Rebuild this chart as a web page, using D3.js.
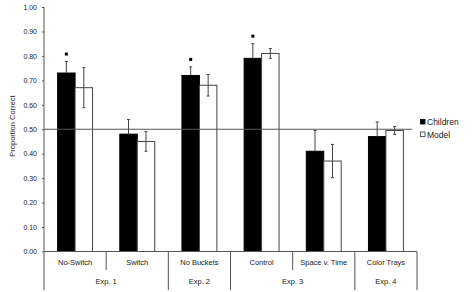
<!DOCTYPE html>
<html>
<head lang="en">
<meta charset="UTF-8">
<title>Proportion Correct</title>
<script src="https://cdn.jsdelivr.net/npm/d3@7"></script>
<style>
body { margin: 0; background: #fff; }
svg text { font-family: "Liberation Sans", Arial, sans-serif; fill: #222; }
.tick-label { font-size: 7px; }
.cat { font-size: 7.5px; }
</style>
</head>
<body>
<div id="vis"></div>
<script>
// values
var categories = ["No-Switch", "Switch", "No Buckets", "Control", "Space v. Time", "Color Trays"];
var children = [0.73, 0.48, 0.72, 0.79, 0.41, 0.47];
var childrenErr = [0.047, 0.06, 0.035, 0.06, 0.085, 0.06];
var model = [0.67, 0.45, 0.68, 0.81, 0.37, 0.495];
var modelErr = [0.082, 0.04, 0.044, 0.02, 0.068, 0.016];
var starred = [true, false, true, true, false, false];
var groups = [
  {name: "Exp. 1", first: 0, last: 1},
  {name: "Exp. 2", first: 2, last: 2},
  {name: "Exp. 3", first: 3, last: 4},
  {name: "Exp. 4", first: 5, last: 5}
];
var yTicks = [0, 0.1, 0.2, 0.3, 0.4, 0.5, 0.6, 0.7, 0.8, 0.9, 1.0];
var series = ["Children", "Model"];

var width = 474, height = 292;
var plotLeft = 44, plotRight = 417, plotTop = 7, plotBottom = 251.5;

var svg = d3.select("#vis").append("svg")
  .attr("width", width)
  .attr("height", height);

var x = d3.scaleBand().domain(categories).range([plotLeft, plotRight]).padding(0);
var x1 = d3.scaleBand().domain(series).range([0, x.bandwidth()]).paddingInner(0).paddingOuter(0.78);
var y = d3.scaleLinear().domain([0, 1]).range([plotBottom, plotTop]);

var axisColor = "#555";

// y axis
var yAxis = svg.append("g")
  .attr("transform", "translate(" + plotLeft + ",0)")
  .call(d3.axisLeft(y).tickValues(yTicks).tickSize(2).tickPadding(5).tickFormat(d3.format(".2f")));
yAxis.select(".domain").remove();
yAxis.selectAll("line").attr("stroke", axisColor);
yAxis.selectAll("text").attr("class", "tick-label").attr("fill", "#333");

svg.append("line")
  .attr("x1", plotLeft).attr("x2", plotLeft)
  .attr("y1", y(1)).attr("y2", 290)
  .attr("stroke", axisColor);

svg.append("text")
  .attr("transform", "translate(15," + 126 + ") rotate(-90)")
  .attr("text-anchor", "middle")
  .style("font-size", "7.5px")
  .text("Proportion Correct");

// bars
var data = categories.map(function(c, i) {
  return [
    {cat: c, s: "Children", v: children[i], e: childrenErr[i]},
    {cat: c, s: "Model", v: model[i], e: modelErr[i]}
  ];
});

var g = svg.selectAll(".cat-g")
  .data(data)
  .enter().append("g")
  .attr("class", "cat-g")
  .attr("transform", function(d) { return "translate(" + x(d[0].cat) + ",0)"; });

g.selectAll("rect")
  .data(function(d) { return d; })
  .enter().append("rect")
  .attr("x", function(d) { return x1(d.s); })
  .attr("y", function(d) { return y(d.v); })
  .attr("width", x1.bandwidth())
  .attr("height", function(d) { return y(0) - y(d.v); })
  .attr("fill", function(d) { return d.s == "Children" ? "#000" : "#fff"; })
  .attr("stroke", function(d) { return d.s == "Children" ? "#000" : "#444"; })
  .attr("stroke-width", 1);

// error bars
var eb = g.selectAll(".err")
  .data(function(d) { return d; })
  .enter().append("g").attr("class", "err");
eb.append("line")
  .attr("x1", function(d) { return x1(d.s) + x1.bandwidth() / 2; })
  .attr("x2", function(d) { return x1(d.s) + x1.bandwidth() / 2; })
  .attr("y1", function(d) { return y(d.s == "Children" ? d.v : d.v - d.e); })
  .attr("y2", function(d) { return y(d.v + d.e); })
  .attr("stroke", "#444");
eb.append("line")
  .attr("x1", function(d) { return x1(d.s) + x1.bandwidth() / 2 - 1.5; })
  .attr("x2", function(d) { return x1(d.s) + x1.bandwidth() / 2 + 1.5; })
  .attr("y1", function(d) { return y(d.v + d.e); })
  .attr("y2", function(d) { return y(d.v + d.e); })
  .attr("stroke", "#444");
eb.filter(function(d) { return d.s == "Model"; }).append("line")
  .attr("x1", function(d) { return x1(d.s) + x1.bandwidth() / 2 - 1.5; })
  .attr("x2", function(d) { return x1(d.s) + x1.bandwidth() / 2 + 1.5; })
  .attr("y1", function(d) { return y(d.v - d.e); })
  .attr("y2", function(d) { return y(d.v - d.e); })
  .attr("stroke", "#444");

// significance stars
g.filter(function(d, i) { return starred[i]; })
  .append("rect")
  .attr("x", x1("Children") + x1.bandwidth() / 2 - 1.5)
  .attr("y", function(d) { return y(d[0].v + d[0].e) - 9; })
  .attr("width", 3).attr("height", 3)
  .attr("fill", "#000");

// chance line and baseline
svg.append("line")
  .attr("x1", plotLeft).attr("x2", 412)
  .attr("y1", y(0.5)).attr("y2", y(0.5))
  .attr("stroke", axisColor);
svg.append("line")
  .attr("x1", plotLeft).attr("x2", plotRight)
  .attr("y1", y(0)).attr("y2", y(0))
  .attr("stroke", axisColor);

// category labels
svg.selectAll(".cat")
  .data(categories)
  .enter().append("text")
  .attr("class", "cat")
  .attr("x", function(d) { return x(d) + x.bandwidth() / 2; })
  .attr("y", 265)
  .attr("text-anchor", "middle")
  .text(function(d) { return d; });

// separators
var groupEnds = groups.map(function(gr) { return gr.last; });
categories.forEach(function(c, i) {
  var xe = x(c) + x.bandwidth();
  var long = groupEnds.indexOf(i) >= 0;
  svg.append("line")
    .attr("x1", xe).attr("x2", xe)
    .attr("y1", y(0)).attr("y2", long ? 290 : 270)
    .attr("stroke", axisColor);
});

// group labels
svg.selectAll(".grp")
  .data(groups)
  .enter().append("text")
  .attr("class", "cat")
  .attr("x", function(d) { return (x(categories[d.first]) + x(categories[d.last]) + x.bandwidth()) / 2; })
  .attr("y", 284)
  .attr("text-anchor", "middle")
  .text(function(d) { return d.name; });

// legend
var legend = svg.selectAll(".legend")
  .data(series)
  .enter().append("g")
  .attr("transform", function(d, i) { return "translate(420," + (122 + i * 12.5) + ")"; });
legend.append("rect")
  .attr("x", 0.5).attr("y", -2.5)
  .attr("width", 4.5).attr("height", 4.5)
  .attr("fill", function(d) { return d == "Children" ? "#000" : "#fff"; })
  .attr("stroke", function(d) { return d == "Children" ? "#000" : "#333"; })
  .attr("stroke-width", 0.8);
legend.append("text")
  .attr("x", 7)
  .attr("y", 3)
  .style("font-size", "8.5px")
  .text(function(d) { return d; });
</script>
</body>
</html>
